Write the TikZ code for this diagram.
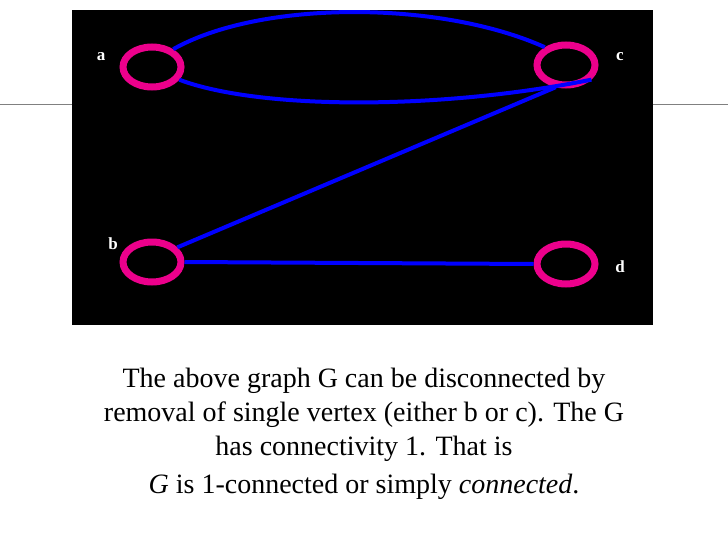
\documentclass[tikz,border=0pt]{standalone}
\usepackage{fontspec}
\usetikzlibrary{shapes.geometric}
\setmainfont{Liberation Serif}
\begin{document}
\begin{tikzpicture}[x=1pt,y=-1pt,
  vtx/.style={draw=magenta,line width=7pt,ellipse,minimum width=58pt,minimum height=40pt},
  edge/.style={draw=blue,line width=4pt},
  lab/.style={text=white,font=\bfseries\fontsize{17}{17}\selectfont},
  captext/.style={font=\fontsize{28}{34}\selectfont}]
\useasboundingbox (0,0) rectangle (728,546);
\fill[white] (0,0) rectangle (728,546);
\draw[gray,line width=1pt] (0,104) -- (728,104);
\fill[black] (72,10) rectangle (653,325);
\node[vtx] (a) at (152,67) {};
\node[vtx] (c) at (566,65) {};
\node[vtx] (b) at (152,262) {};
\node[vtx] (d) at (566,264) {};
\draw[edge] (a.40) .. controls (260,0) and (440,0) .. (c.140);
\draw[edge] (a.-25) .. controls (260,110) and (440,110) .. (c.-30);
\draw[edge] (c.-115) -- (b.30);
\draw[edge] (b.east) -- (d.west);
\node[lab] (la) at (101,57) {a};
\node[lab] (lc) at (620,57) {c};
\node[lab] (lb) at (113,244) {b};
\node[lab] (ld) at (620,267) {d};
\node[captext,align=center] (t) at (364,434) {The above graph G can be disconnected by\\removal of single vertex (either b or c). The G\\has connectivity 1. That is\\[4pt]\textit{G} is 1-connected or simply \textit{connected}.};
\end{tikzpicture}
\end{document}
